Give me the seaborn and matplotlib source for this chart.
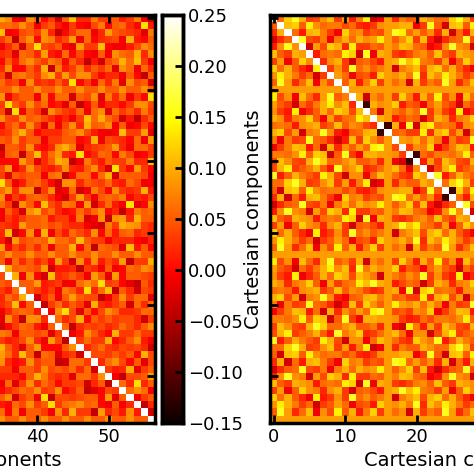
import numpy as np
import matplotlib
matplotlib.use("Agg")
import matplotlib.pyplot as plt
import seaborn as sns

N = 57
# representative texture values (off-diagonal cells)
left_texture = [0.02, 0.05, -0.01, 0.04, 0.00, 0.06, 0.03, -0.03, 0.05, 0.01,
                0.08, -0.02, 0.04, 0.02, 0.06, -0.04, 0.03, 0.00, 0.10, 0.02, 0.05, -0.01, 0.03]
right_texture = [0.06, 0.09, 0.03, 0.12, 0.07, 0.01, 0.10, 0.05, 0.14, 0.04,
                 0.08, -0.01, 0.11, 0.06, 0.02, 0.09, 0.16, 0.05, 0.07, 0.03, 0.10, -0.03, 0.08]
left_offset_boost = 0.03   # brighter cells on every third off-diagonal
diag_value = 0.25
right_dark_cells = [(15, 16), (16, 15), (24, 25), (25, 24), (19, 20), (20, 19), (12, 13)]
right_dark_value = -0.12

def build(tex, boost, dark):
    m = np.zeros((N, N))
    for i in range(N):
        for j in range(N):
            m[i, j] = tex[(i * 7 + j * 13 + i * j) % len(tex)]
            if boost and (j - i) % 3 == 0:
                m[i, j] += boost
    for i in range(N):
        m[i, i] = diag_value
    for (i, j) in dark:
        m[i, j] = right_dark_value
    return m

left = build(left_texture, left_offset_boost, [])
right = build(right_texture, 0.0, right_dark_cells)

fig = plt.figure(figsize=(4.74, 4.74), dpi=100)
axL = fig.add_axes([-0.532, 0.108, 0.859, 0.861])
cax = fig.add_axes([0.342, 0.108, 0.044, 0.861])
axR = fig.add_axes([0.570, 0.108, 0.859, 0.861])

kw = dict(cmap="hot", vmin=-0.15, vmax=0.25)
sns.heatmap(left, ax=axL, cbar_ax=cax, **kw)
sns.heatmap(right, ax=axR, cbar=False, **kw)

for ax in (axL, axR):
    ax.set_xticks(np.arange(0, N, 10) + 0.5)
    ax.set_xticklabels([str(v) for v in range(0, N, 10)], rotation=0, fontsize=13)
    ax.set_yticks(np.arange(0, N, 10) + 0.5)
    ax.set_yticklabels([])
    ax.tick_params(direction="in", length=6, width=2, color="black",
                   top=True, right=True, left=True, bottom=True)
    for s in ax.spines.values():
        s.set_visible(True)
        s.set_linewidth(2.5)
    ax.set_xlabel("Cartesian components", fontsize=14)
axR.set_ylabel("Cartesian components", fontsize=14, labelpad=2)

cax.set_yticks([-0.15, -0.10, -0.05, 0.0, 0.05, 0.10, 0.15, 0.20, 0.25])
cax.set_yticklabels(["\u22120.15", "\u22120.10", "\u22120.05", "0.00", "0.05",
                     "0.10", "0.15", "0.20", "0.25"], fontsize=13)
cax.tick_params(direction="in", length=6, width=2, colors="black")
for s in cax.spines.values():
    s.set_visible(True)
    s.set_linewidth(2.5)

fig.savefig("out.png", dpi=100)
